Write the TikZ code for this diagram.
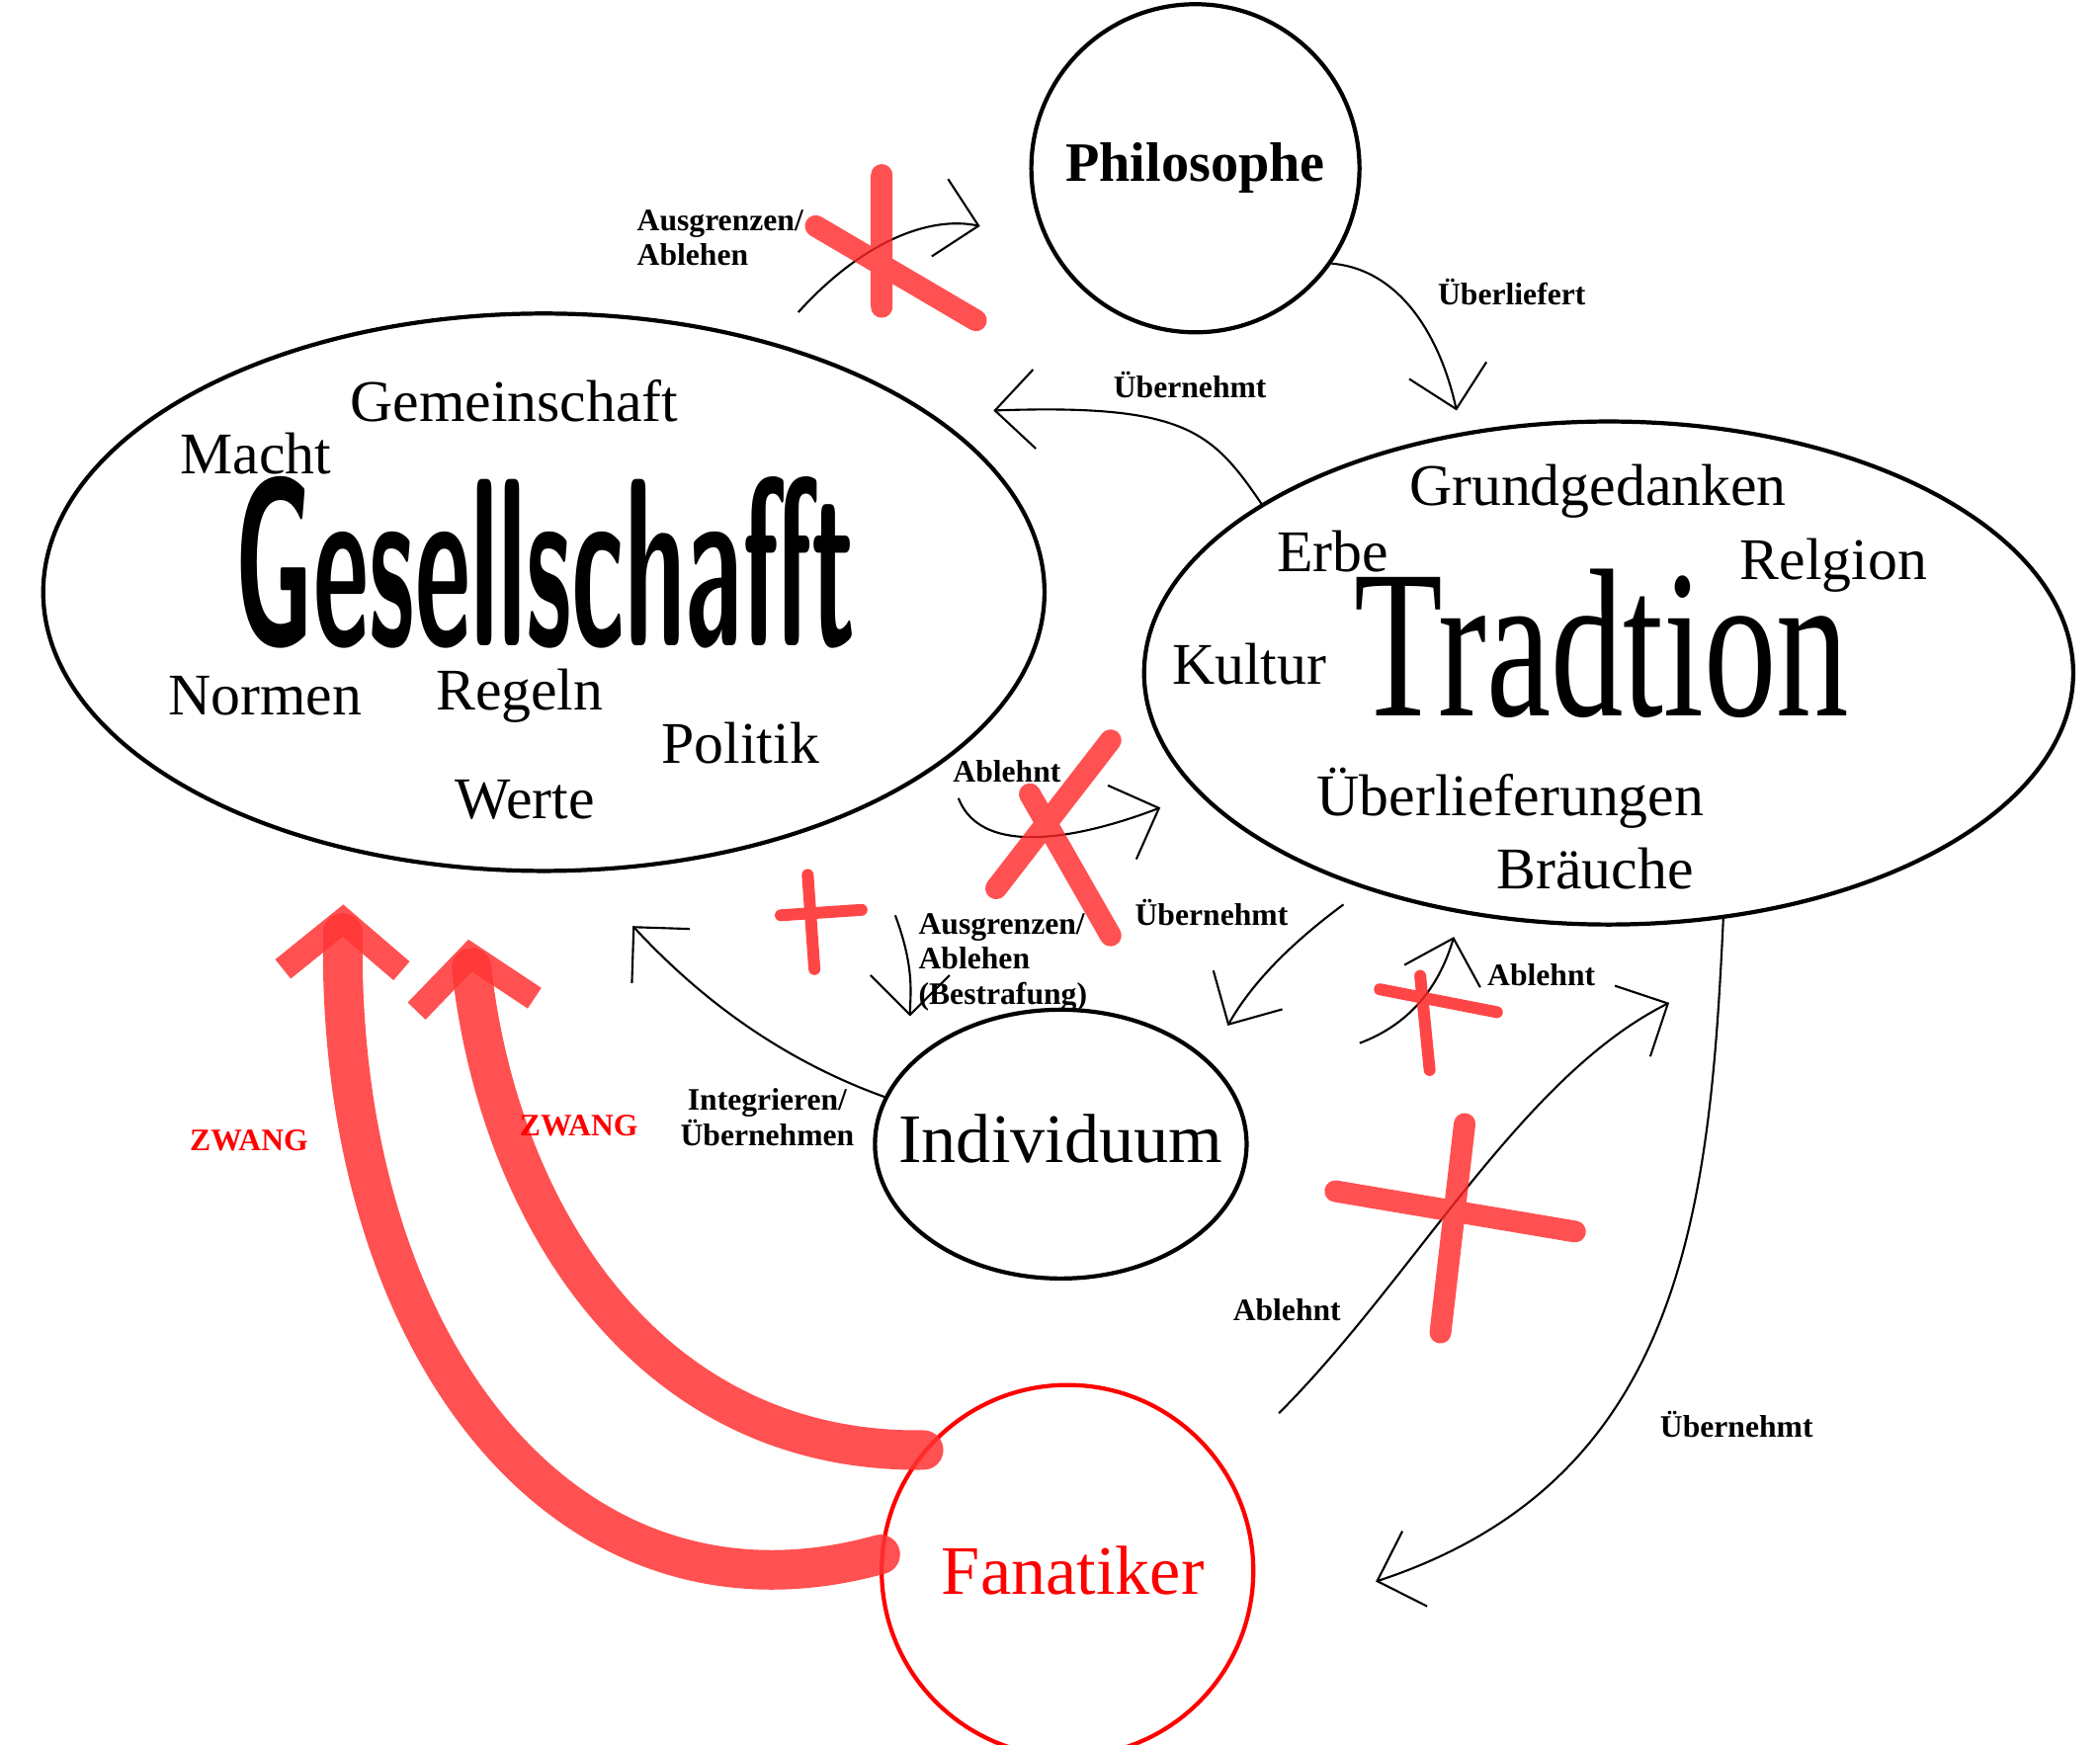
\documentclass[tikz,border=0pt]{standalone}
\usepackage{fontspec}
\setmainfont{Liberation Serif}
\usetikzlibrary{arrows.meta, shapes.geometric}

\tikzset{
  blob/.style={ellipse, draw, line width=1.2pt, inner sep=0pt},
  word/.style={font=\fontsize{17}{17}\selectfont},
  lbl/.style={font=\bfseries\fontsize{9}{10}\selectfont, align=left},
  hand/.style={line width=0.6pt, -{Straight Barb[length=4mm, width=8mm, line width=0.6pt]}},
  zwang/.style={line width=4mm, red!80!white, opacity=0.85, line cap=round,
    -{Straight Barb[length=5mm, width=12mm, line width=2.5mm]}},
  redx/.style={line width=2.2mm, red!85!white, opacity=0.8, line cap=round},
  thinx/.style={line width=1.2mm, red!85!white, opacity=0.85, line cap=round}
}

\begin{document}
\begin{tikzpicture}[x=0.1362mm, y=-0.1362mm]
\useasboundingbox (0,0) rectangle (1560,1296);
% main shapes
\node[blob, circle, minimum size=3.32cm] (phil) at (888,125) {};
\node[font=\bfseries\fontsize{16}{16}\selectfont] at (888,125) {Philosophe};
\node[blob, minimum width=10.13cm, minimum height=5.64cm] (ges) at (404,440) {};
\node[blob, minimum width=9.4cm, minimum height=5.09cm] (trad) at (1195,500) {};
\node[blob, minimum width=3.76cm, minimum height=2.72cm] (ind) at (788,850) {};
\node[font=\fontsize{20}{20}\selectfont] at (788,846) {Individuum};
\node[blob, circle, draw=red, minimum size=3.76cm] (fan) at (793,1167) {};
\node[font=\fontsize{20}{20}\selectfont, text=red] at (797,1167) {Fanatiker};
% words in Gesellschaft
\node[font=\sffamily\bfseries\fontsize{60}{60}\selectfont, xscale=0.52, yscale=1.15] at (405,418) {Gesellschafft};
\node[word] at (190,337) {Macht};
\node[word] at (382,298) {Gemeinschaft};
\node[word] at (197,517) {Normen};
\node[word] at (386,517) {Regeln};
\node[word] at (550,552) {Politik};
\node[word] at (390,594) {Werte};
% words in Tradition
\node[font=\fontsize{58}{58}\selectfont, xscale=0.72, yscale=1.05] at (1190,478) {Tradtion};
\node[word] at (1187,365) {Grundgedanken};
\node[word] at (990,410) {Erbe};
\node[word] at (1362,420) {Relgion};
\node[word] at (928,493) {Kultur};
\node[word] at (1122,593) {Überlieferungen};
\node[word] at (1185,645) {Bräuche};
% arrow ends
\coordinate (s3) at (593,232);
\coordinate (s4) at (712,593);
\coordinate (s5) at (998,672);
\coordinate (s6) at (665,680);
\coordinate (s8) at (1010,775);
\coordinate (s9) at (950,1050);
\coordinate (t1) at (1082,305);
\coordinate (t2) at (738,305);
\coordinate (t3) at (728,168);
\coordinate (t4) at (862,600);
\coordinate (t5) at (912,762);
\coordinate (t6) at (676,755);
\coordinate (t7) at (470,688);
\coordinate (t8) at (1080,696);
\coordinate (t9) at (1240,745);
\coordinate (t10) at (1022,1175);
\coordinate (t11) at (255,672);
\coordinate (t12) at (348,698);
% connectors
\draw[hand] (phil.-35) .. controls (1040,200) and (1070,250) .. (t1);
\node[lbl] at (1123,217) {Überliefert};
\draw[hand] (trad.154) .. controls (900,320) and (880,300) .. (t2);
\node[lbl] at (884,286) {Übernehmt};
\draw[hand] (s3) .. controls (640,180) and (690,160) .. (t3);
\node[lbl] at (535,177) {Ausgrenzen/\\Ablehen};
\draw[hand] (s4) .. controls (730,640) and (810,620) .. (t4);
\node[lbl] at (748,573) {Ablehnt};
\draw[hand] (s5) .. controls (960,700) and (930,730) .. (t5);
\node[lbl] at (900,678) {Übernehmt};
\draw[hand] (s6) .. controls (680,720) and (676,740) .. (t6);
\node[lbl] at (745,715) {Ausgrenzen/\\Ablehen\\(Bestrafung)};
\draw[hand] (ind.165) .. controls (560,780) and (500,720) .. (t7);
\node[lbl, align=center] at (570,830) {Integrieren/\\Übernehmen};
\draw[hand] (s8) .. controls (1050,760) and (1070,730) .. (t8);
\node[lbl] at (1145,724) {Ablehnt};
\draw[hand] (s9) .. controls (1050,950) and (1130,800) .. (t9);
\node[lbl] at (956,973) {Ablehnt};
\draw[hand] (trad.-65) .. controls (1270,900) and (1250,1100) .. (t10);
\node[lbl] at (1290,1058) {Übernehmt};
% red arrows
\draw[zwang] (fan.175) .. controls (420,1220) and (250,1000) .. (t11);
\draw[zwang] (fan.140) .. controls (480,1080) and (370,900) .. (t12);
\node[lbl, text=red] at (185,847) {ZWANG};
\node[lbl, text=red] at (430,836) {ZWANG};
% crosses
\draw[redx] (655,130) -- (655,228) (606,168) -- (725,238);
\draw[redx] (825,550) -- (740,660) (765,590) -- (825,695);
\draw[thinx] (600,650) -- (605,720) (580,680) -- (640,676);
\draw[thinx] (1055,725) -- (1062,795) (1025,735) -- (1112,752);
\draw[redx] (1088,835) -- (1070,990) (992,885) -- (1170,915);
\end{tikzpicture}
\end{document}
